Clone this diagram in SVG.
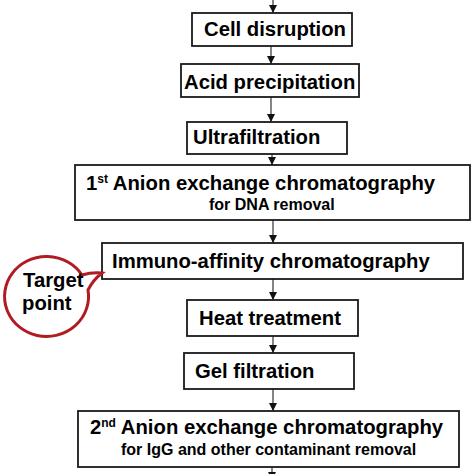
<svg xmlns="http://www.w3.org/2000/svg" width="474" height="474" viewBox="0 0 474 474">
<style>
.box{fill:#fff;stroke:#1a1a1a;stroke-width:1.8}
.t{font-family:"Liberation Sans",Arial,sans-serif;font-weight:bold;font-size:20.3px;fill:#000}
.s{font-family:"Liberation Sans",Arial,sans-serif;font-weight:bold;font-size:16px;fill:#000}
.sup{font-size:12px}
.c{fill:none;stroke:#333;stroke-width:1.2;marker-end:url(#ah)}
.call{fill:#fff;stroke:#b01c22;stroke-width:3}
</style>
<defs>
<marker id="ah" viewBox="0 0 8 8" refX="8" refY="4" markerWidth="8" markerHeight="8" markerUnits="userSpaceOnUse" orient="auto">
<path d="M0,0 L8,4 L0,8 Z" fill="#111"/>
</marker>
</defs>
<rect width="474" height="474" fill="#fff"/>
<g id="connectors">
<path class="c" d="M273,0 V13"/>
<path class="c" d="M271,46 V64"/>
<path class="c" d="M271,97 V122"/>
<path class="c" d="M272,154 V165"/>
<path class="c" d="M273,220 V243"/>
<path class="c" d="M273,279 V300"/>
<path class="c" d="M273,336 V353"/>
<path class="c" d="M273,389 V411"/>
<path class="c" d="M272,467 V480"/>
</g>
<g id="n1"><rect class="box" x="192" y="13" width="160" height="33"/><text class="t" x="204" y="36">Cell disruption</text></g>
<g id="n2"><rect class="box" x="181" y="64" width="178" height="33"/><text class="t" x="184" y="89">Acid precipitation</text></g>
<g id="n3"><rect class="box" x="187" y="122" width="160" height="32"/><text class="t" x="193" y="144">Ultrafiltration</text></g>
<g id="n4"><rect class="box" x="75" y="165" width="395" height="55"/><text class="t" x="86" y="190">1<tspan class="sup" dy="-7">st</tspan><tspan dy="7"> Anion exchange chromatography</tspan></text><text class="s" x="209" y="210">for DNA removal</text></g>
<g id="n5"><rect class="box" x="102" y="243" width="361" height="36"/><text class="t" x="112" y="268">Immuno-affinity chromatography</text></g>
<g id="callout"><path class="call" d="M82,275 Q92,272 102,273 Q93,280 88,290 A42 40 0 1 1 82,275 Z"/><text class="t" x="23" y="287">Target</text><text class="t" x="22" y="310">point</text></g>
<g id="n6"><rect class="box" x="187" y="300" width="171" height="36"/><text class="t" x="199" y="325">Heat treatment</text></g>
<g id="n7"><rect class="box" x="184" y="353" width="170" height="36"/><text class="t" x="195" y="378">Gel filtration</text></g>
<g id="n8"><rect class="box" x="78" y="411" width="381" height="56"/><text class="t" x="90" y="434">2<tspan class="sup" dy="-7">nd</tspan><tspan dy="7"> Anion exchange chromatography</tspan></text><text class="s" x="121" y="455">for IgG and other contaminant removal</text></g>
</svg>
